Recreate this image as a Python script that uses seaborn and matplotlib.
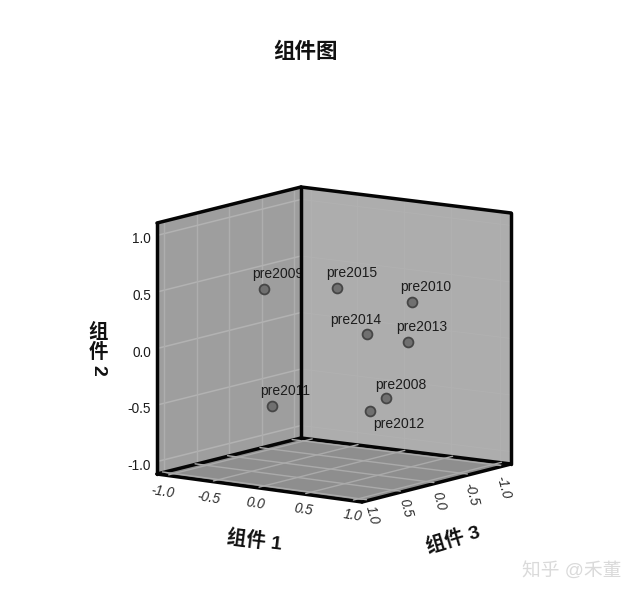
import numpy as np
import pandas as pd
import matplotlib.pyplot as plt
import seaborn as sns

# Component loadings
labels = ['pre2009', 'pre2015', 'pre2010', 'pre2014', 'pre2013', 'pre2008', 'pre2012', 'pre2011']
component_1 = [-0.506, -0.068, 0.512, 0.454, 0.742, 0.728, 0.698, -0.209]
component_2 = [0.477, 0.459, 0.345, 0.153, 0.084, -0.370, -0.459, -0.482]
component_3 = [0.30, -0.20, -0.50, 0.10, -0.10, 0.20, 0.40, 0.60]
tick_values = [-1.0, -0.5, 0.0, 0.5, 1.0]

LIM = 1.11

sns.set_theme(style='white')
plt.rcParams['font.family'] = ['Liberation Sans', 'Noto Sans CJK SC', 'DejaVu Sans']

# Floor corners in pixels: (x,z) = (-,-), (+,-), (+,+), (-,+)
src = np.array([[-LIM, -LIM], [LIM, -LIM], [LIM, LIM], [-LIM, LIM]])
dst = np.array([[301, 438], [511, 464], [362, 502], [157, 474]], dtype=float)
WALL_PX = 251.0

A = []
b = []
for (sx, sz), (dx, dy) in zip(src, dst):
    A.append([sx, sz, 1, 0, 0, 0, -dx * sx, -dx * sz])
    A.append([0, 0, 0, sx, sz, 1, -dy * sx, -dy * sz])
    b += [dx, dy]
H = np.append(np.linalg.solve(np.array(A), np.array(b)), 1).reshape(3, 3)


def project(x, y, z):
    x, y, z = np.broadcast_arrays(np.asarray(x, float), np.asarray(y, float), np.asarray(z, float))
    w = H[2, 0] * x + H[2, 1] * z + H[2, 2]
    px = (H[0, 0] * x + H[0, 1] * z + H[0, 2]) / w
    py = (H[1, 0] * x + H[1, 1] * z + H[1, 2]) / w
    return px, py - (y + LIM) / (2 * LIM) * WALL_PX


def line3d(ax, a, b, **kw):
    px, py = project([a[0], b[0]], [a[1], b[1]], [a[2], b[2]])
    ax.plot(px, py, **kw)


def panel(ax, corners, color):
    px, py = project(*np.array(corners).T)
    ax.fill(px, py, color=color, lw=0, zorder=1)


fig = plt.figure(figsize=(6.39, 5.96), dpi=100)
ax = fig.add_axes([0, 0, 1, 1])
ax.set_xlim(0, 639)
ax.set_ylim(596, 0)
ax.axis('off')

L = LIM
panel(ax, [(-L, -L, -L), (-L, -L, L), (-L, L, L), (-L, L, -L)], '#9e9e9e')
panel(ax, [(-L, -L, -L), (L, -L, -L), (L, L, -L), (-L, L, -L)], '#adadad')
panel(ax, [(-L, -L, -L), (L, -L, -L), (L, -L, L), (-L, -L, L)], '#8e8e8e')

# Grid lines on each wall
for t in tick_values:
    line3d(ax, (-L, t, L), (-L, t, -L), color='#b2b2b2', lw=1.1, zorder=2)
    line3d(ax, (-L, -L, t), (-L, L, t), color='#aeaeae', lw=1.0, zorder=2)
    line3d(ax, (-L, t, -L), (L, t, -L), color='#b1b1b1', lw=0.7, zorder=2)
    line3d(ax, (t, -L, -L), (t, L, -L), color='#b1b1b1', lw=0.7, zorder=2)

# Black box edges
edge = dict(color='#050505', lw=2.5, solid_capstyle='round', solid_joinstyle='round', zorder=3)
line3d(ax, (-L, -L, L), (-L, L, L), **edge)
line3d(ax, (-L, L, L), (-L, L, -L), **edge)
line3d(ax, (-L, L, -L), (L, L, -L), **edge)
line3d(ax, (L, L, -L), (L, -L, -L), **edge)
line3d(ax, (-L, -L, L), (-L, -L, -L), **edge)
line3d(ax, (-L, -L, -L), (L, -L, -L), **edge)
line3d(ax, (-L, -L, L), (L, -L, L), **edge)
line3d(ax, (L, -L, L), (L, -L, -L), **edge)

# Floor grid runs over the back edges, which leaves small gaps
for t in tick_values:
    line3d(ax, (t, -L, -L - 0.02), (t, -L, L - 0.03), color='#aaaaaa', lw=1.0, zorder=4)
    line3d(ax, (-L - 0.02, -L, t), (L - 0.03, -L, t), color='#aaaaaa', lw=1.0, zorder=4)

# Points
px, py = project(component_1, component_2, component_3)
df = pd.DataFrame({'px': px, 'py': py, 'label': labels})
sns.scatterplot(data=df, x='px', y='py', ax=ax, s=50, color='#707070',
                edgecolor='#464646', linewidth=1.3, legend=False, zorder=5)
ax.set_xlim(0, 639)
ax.set_ylim(596, 0)
ax.axis('off')

label_offset = {'pre2014': (-11, -14), 'pre2012': (29, 13), 'pre2008': (14, -13)}
for row in df.itertuples():
    dx, dy = label_offset.get(row.label, (14, -15))
    ax.text(row.px + dx, row.py + dy, row.label, fontsize=10, color='#1c1c1c',
            ha='center', va='center', zorder=3.0)

# The back vertical edge sits on top of the labels
line3d(ax, (-L, -L, -L), (-L, L, -L), **{**edge, 'zorder': 6})

# Tick labels
for t in tick_values:
    tx, ty = project(-L, t, L)
    ax.text(tx - 6, ty + 4, f'{t:.1f}', fontsize=9.8, ha='right', va='center', color='#1c1c1c')
    tx, ty = project(t, -L, L)
    ax.text(tx - 1.5 + 2.5 * t, ty + 16 - t, f'{t:.1f}', fontsize=9.8, style='italic', rotation=-9,
            ha='center', va='center', color='#2a2a2a')
    tx, ty = project(L, -L, t)
    ax.text(tx + 1.5 + 1.5 * t, ty + 18 - 3 * t, f'{t:.1f}', fontsize=9.8, style='italic', rotation=-75,
            ha='center', va='center', color='#2a2a2a')

# Title and axis names
ax.text(306, 53, '组件图', fontsize=15.5, fontweight='bold', ha='center', va='center', color='#111111')
ax.text(254, 541, '组件 1', fontsize=14, fontweight='bold', rotation=-7, ha='center', va='center', color='#111111')
ax.text(453, 540, '组件 3', fontsize=14, fontweight='bold', rotation=17, ha='center', va='center', color='#111111')
ax.text(98, 332, '组', fontsize=14, fontweight='bold', ha='center', va='center', color='#111111')
ax.text(98, 352, '件', fontsize=14, fontweight='bold', ha='center', va='center', color='#111111')
ax.text(98, 370, '2', fontsize=14, fontweight='bold', rotation=-90, ha='center', va='center', color='#111111')

# Watermark
ax.text(572, 571, '知乎 @禾董', fontsize=13.5, ha='center', va='center', color='#dadada')

fig.savefig('out.png', dpi=100)
